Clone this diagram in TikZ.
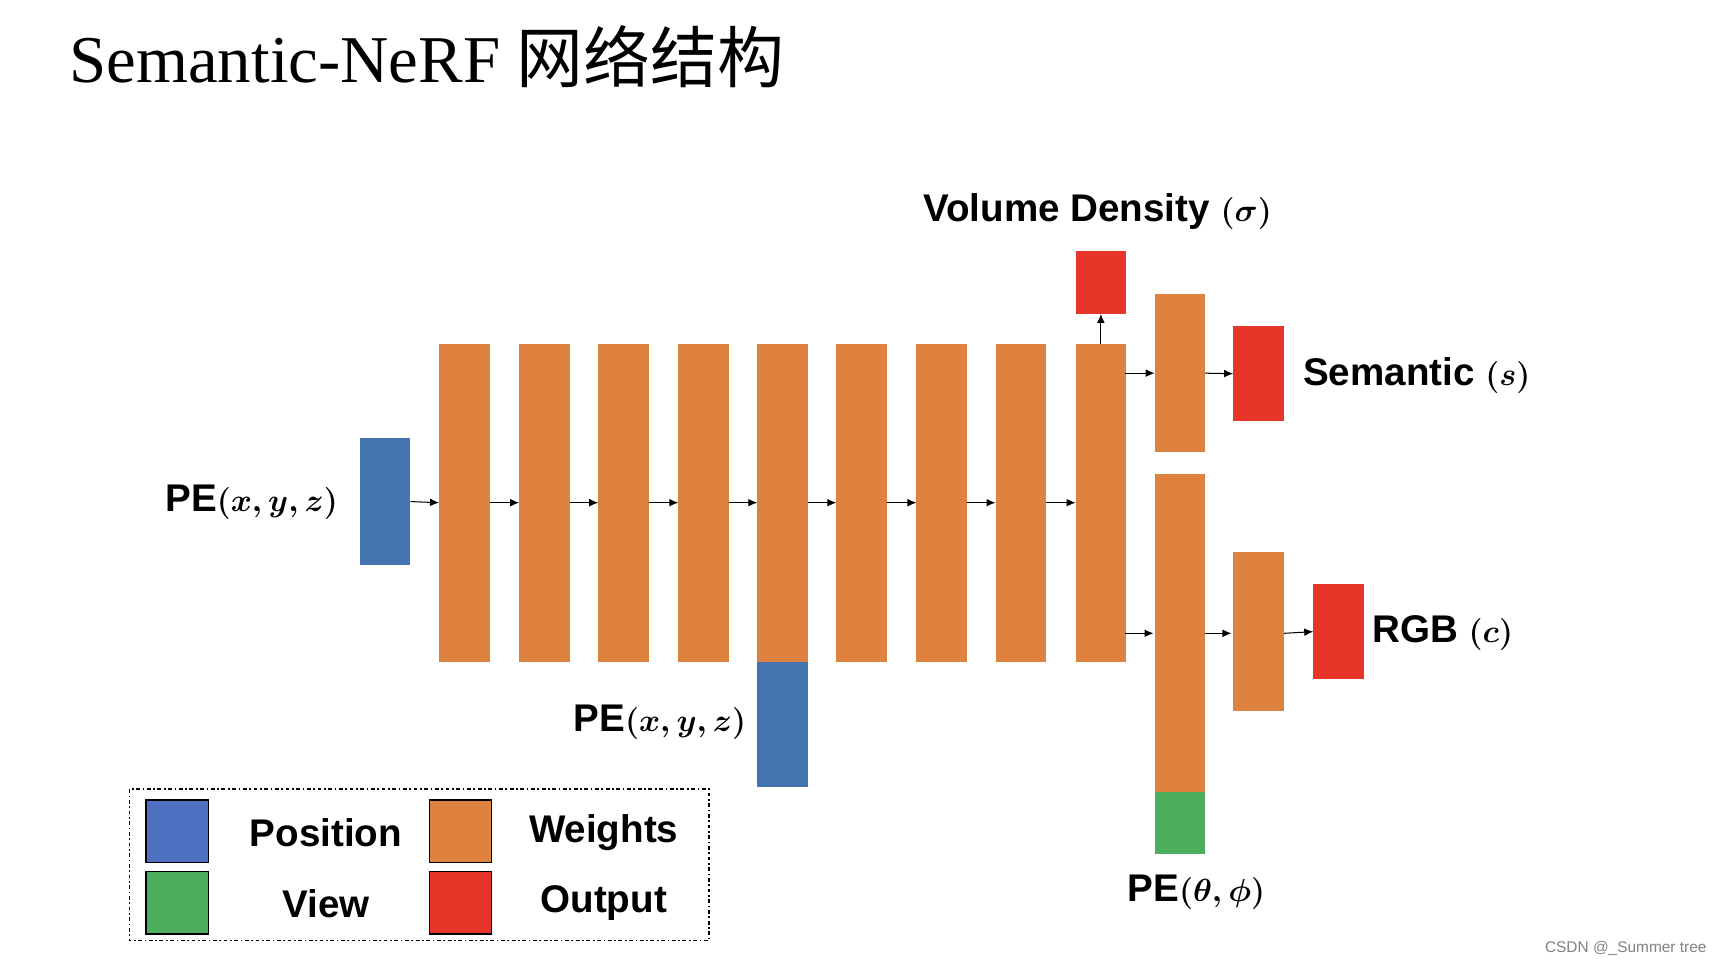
\documentclass[tikz,border=0pt]{standalone}
\usepackage{fontspec}
\usepackage{amsmath,bm}
\setmainfont{Liberation Serif}
\newfontfamily\lab{Liberation Sans}
\newfontfamily\cjk{Noto Sans CJK SC}
\usetikzlibrary{arrows.meta}
\definecolor{ora}{HTML}{E0823F}
\definecolor{blu}{HTML}{4575B0}
\definecolor{lblu}{HTML}{4F6FC0}
\definecolor{rd}{HTML}{E8352A}
\definecolor{grn}{HTML}{4CAE5E}
\begin{document}
\begin{tikzpicture}[x=0.03cm,y=-0.03cm,
  blk/.style={minimum width=46*0.03cm, inner sep=0, outer sep=0, draw=none},
  arr/.style={-{Latex[length=7pt,width=6pt]}, line width=0.8pt},
  lbl/.style={font=\lab\fontsize{30}{34}\selectfont\bfseries\boldmath, inner sep=0},
  leg/.style={minimum width=57*0.03cm, minimum height=57*0.03cm, draw=black, line width=1pt, inner sep=0}]
\useasboundingbox (0,0) rectangle (1568,881);
\node[anchor=base west, inner sep=0] (title) at (63,75) {\fontsize{52}{60}\selectfont Semantic-NeRF {\cjk 网络结构}};
% input
\node[blk, fill=blu, minimum height=116*0.03cm] (in) at (351,457) {};
\foreach \i/\x in {1/423,2/496,3/568,4/641,5/713,6/785,7/858,8/930,9/1003}
  \node[blk, fill=ora, minimum height=290*0.03cm] (c\i) at (\x,458) {};
\draw[arr] (in.east) -- (c1.west);
\foreach \i [evaluate=\i as \j using int(\i+1)] in {1,...,8}
  \draw[arr] (c\i.east) -- (c\j.west);
\node[blk, fill=blu, minimum height=114*0.03cm, anchor=north] (in2) at (c5.south) {};
\node[blk, fill=rd, minimum height=57*0.03cm] (sig) at (1003,257.5) {};
\draw[arr] (c9.north) -- (sig.south);
\node[blk, fill=ora, minimum height=144*0.03cm] (s1) at (1075,340) {};
\node[blk, fill=rd, minimum height=87*0.03cm] (sem) at (1146.5,340.5) {};
\draw[arr] (1025,340) -- (s1.west);
\draw[arr] (s1.east) -- (sem.west);
\node[blk, fill=ora, minimum height=290*0.03cm] (r1) at (1075,577) {};
\node[blk, fill=grn, minimum height=56*0.03cm, anchor=north] (view) at (r1.south) {};
\node[blk, fill=ora, minimum height=145*0.03cm] (r2) at (1146.5,575.5) {};
\node[blk, fill=rd, minimum height=87*0.03cm] (rgb) at (1219.5,575.5) {};
\draw[arr] (1025,577) -- (1051,577);
\draw[arr] (1098,577) -- (1122,577);
\draw[arr] (1170,577) -- (rgb.west);
% labels
\node[lbl, anchor=east] (l1) at (308,458) {PE$(x,y,z)$};
\node[lbl, anchor=east] (l2) at (680,658) {PE$(x,y,z)$};
\node[lbl] (l3) at (1000,193) {Volume Density $(\sigma)$};
\node[lbl, anchor=west] (l4) at (1187,342) {Semantic $(s)$};
\node[lbl, anchor=west] (l5) at (1250,577) {RGB $(c)$};
\node[lbl] (l6) at (1090,813) {PE$(\theta,\phi)$};
% legend
\draw[line width=1.3pt, dash dot] (118,719) rectangle (646,857);
\node[leg, fill=lblu] (lg1) at (161.5,757.5) {};
\node[leg, fill=grn] (lg2) at (161.5,822.5) {};
\node[leg, fill=ora] (lg3) at (419.5,757.5) {};
\node[leg, fill=rd] (lg4) at (419.5,822.5) {};
\node[lbl] at (297,759) {Position};
\node[lbl] at (297,823) {View};
\node[lbl] at (550,759) {Weights};
\node[lbl] at (550,823) {Output};
\node[anchor=east, text=gray, font=\lab\fontsize{12}{14}\selectfont, inner sep=0] at (1555,864) {CSDN @\_Summer tree};
\end{tikzpicture}
\end{document}
